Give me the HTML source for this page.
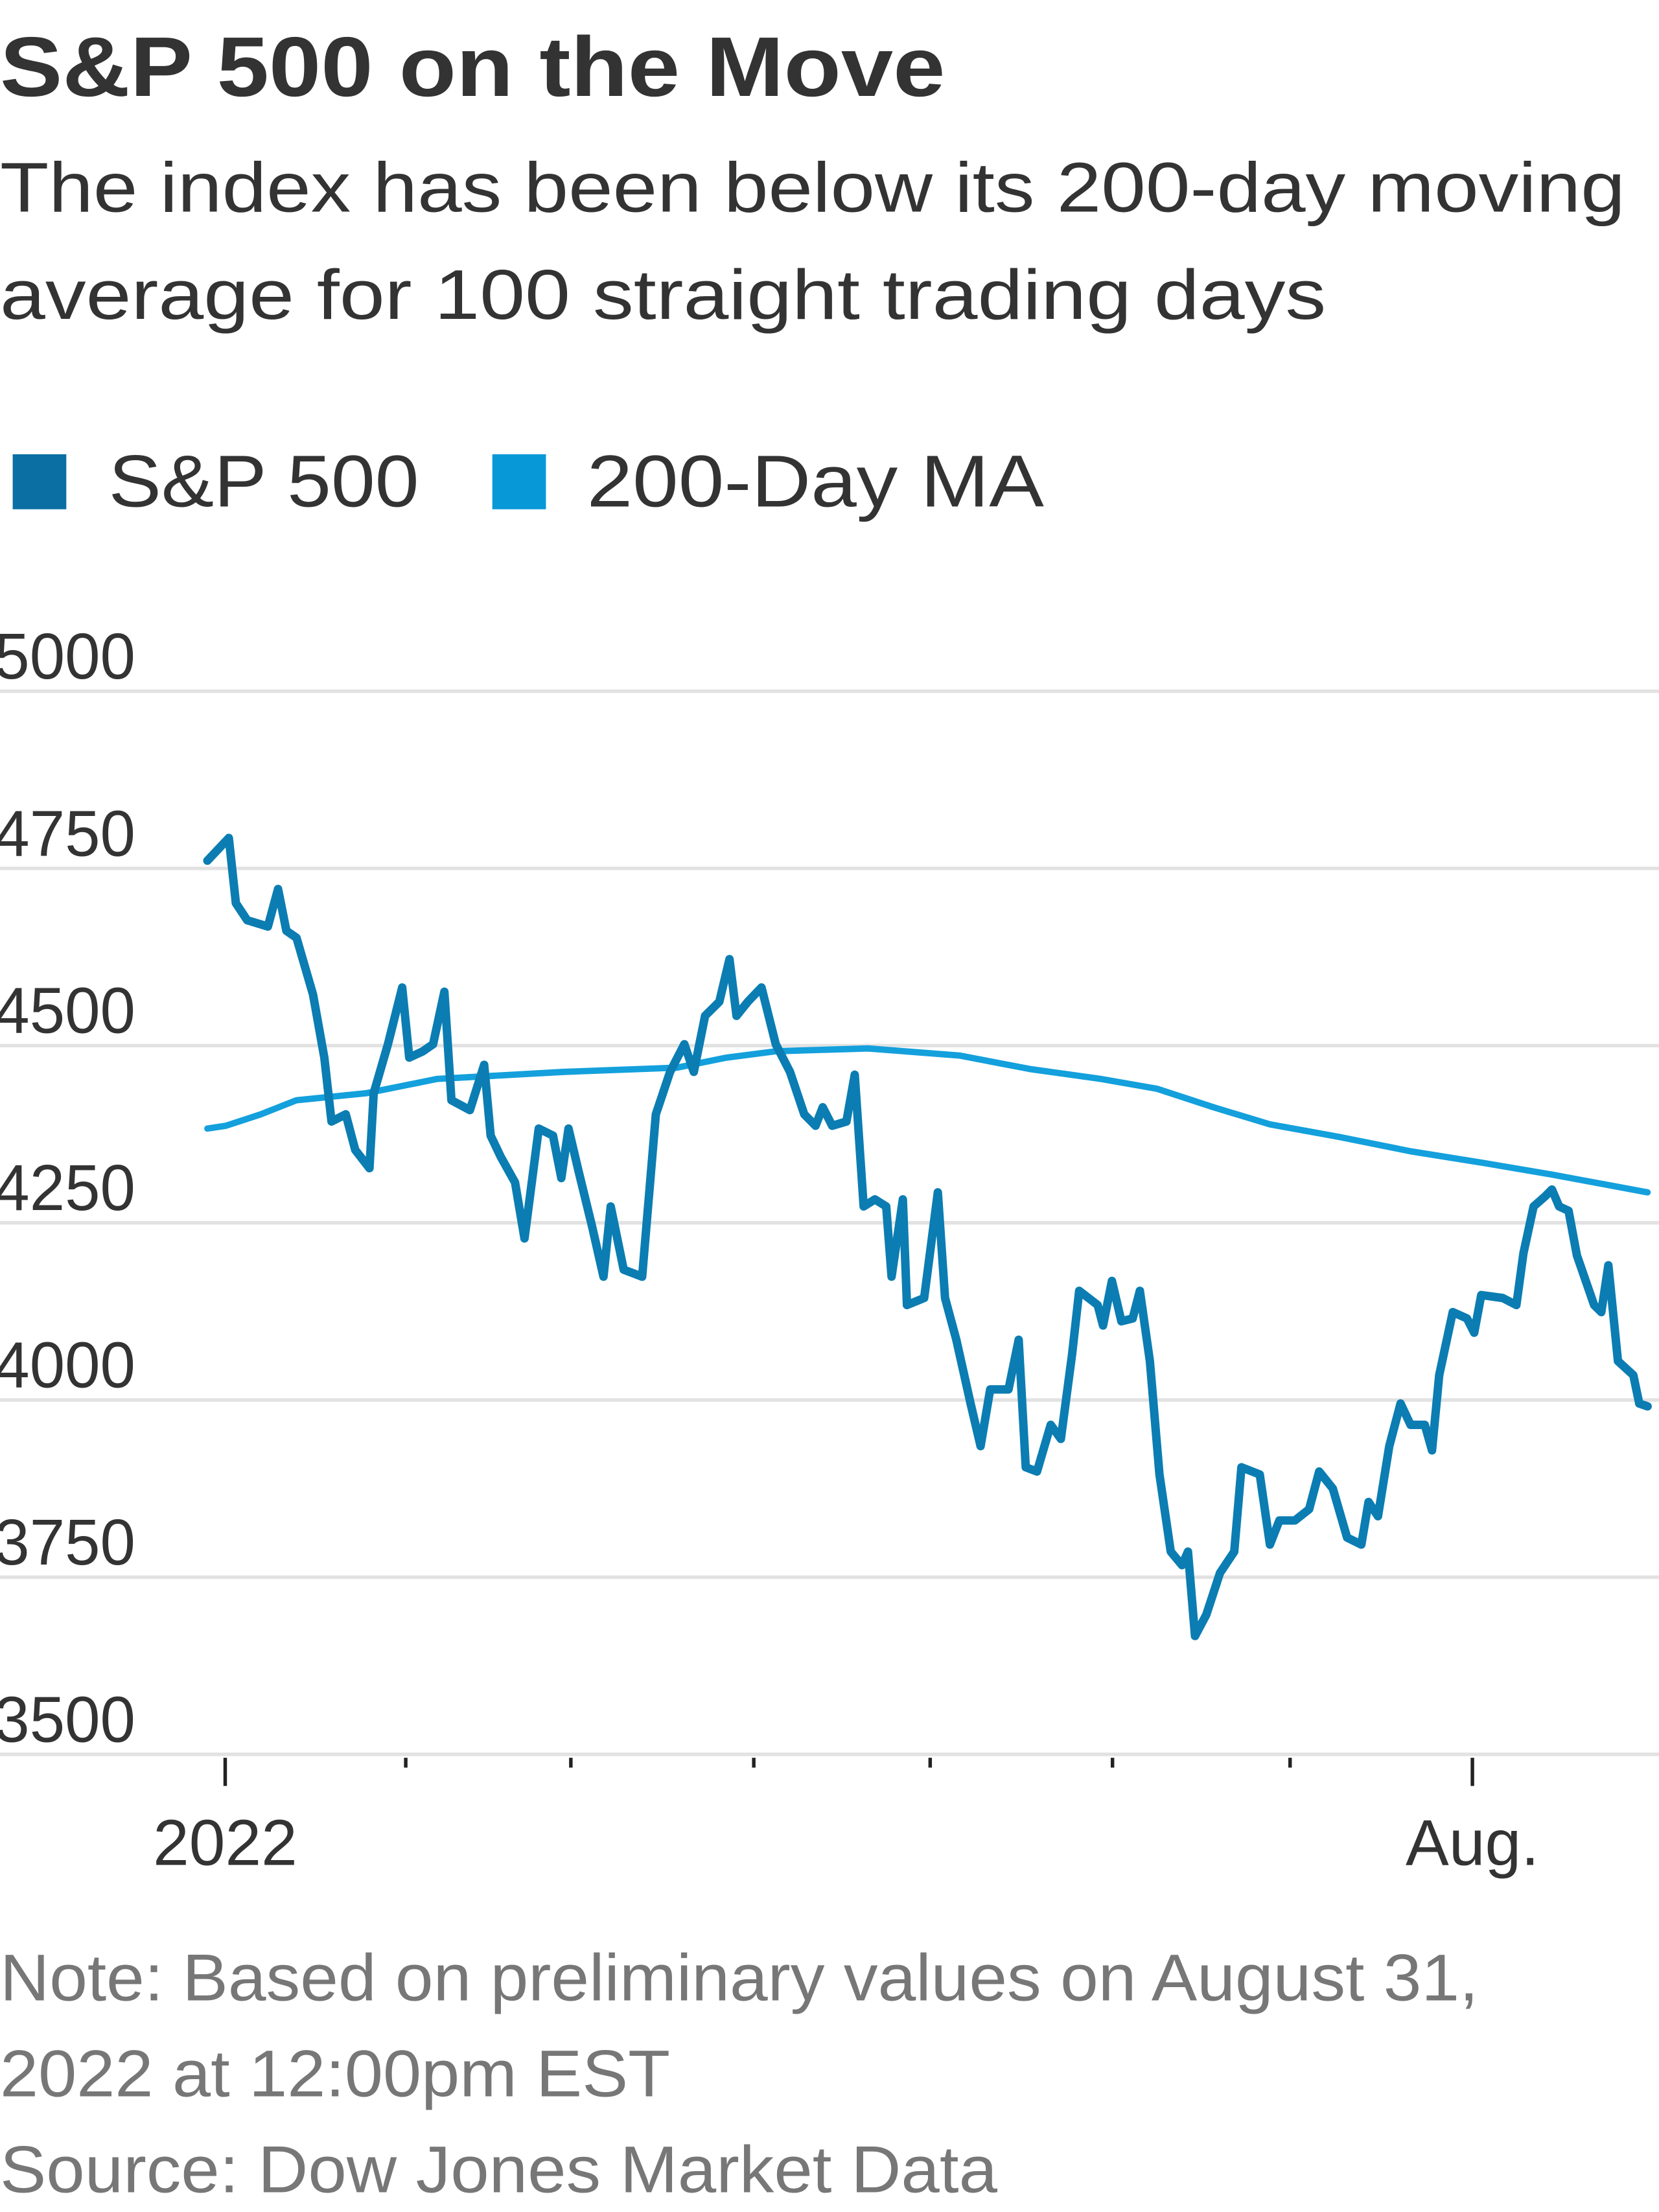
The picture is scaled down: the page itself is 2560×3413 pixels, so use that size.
<!DOCTYPE html>
<html><head><meta charset="utf-8">
<style>
html,body{margin:0;padding:0;background:#fff;}
svg{display:block;}
text{font-family:"Liberation Sans",sans-serif;}
</style></head>
<body>
<svg id="chart" width="2560" height="3413" viewBox="0 0 1176 1568" preserveAspectRatio="none" xmlns="http://www.w3.org/2000/svg">
  <text x="0" y="68" font-size="60" font-weight="bold" fill="#333" textLength="670" lengthAdjust="spacingAndGlyphs">S&amp;P 500 on the Move</text>
  <text x="0" y="150" font-size="50" fill="#333" textLength="1152" lengthAdjust="spacingAndGlyphs">The index has been below its 200-day moving</text>
  <text x="0" y="226" font-size="50" fill="#333" textLength="940" lengthAdjust="spacingAndGlyphs">average for 100 straight trading days</text>
  <g>
    <rect x="9" y="322" width="38" height="39" fill="#0b6fa4"/>
    <text x="77" y="359" font-size="52" fill="#333" textLength="220" lengthAdjust="spacingAndGlyphs">S&amp;P 500</text>
    <rect x="349" y="322" width="38" height="39" fill="#0798d8"/>
    <text x="416" y="359" font-size="52" fill="#333" textLength="324" lengthAdjust="spacingAndGlyphs">200-Day MA</text>
  </g>
  <g id="grid"></g>
  <g id="yaxis"></g>
  <g id="xaxis"></g>
  <g id="series"></g>
  <text x="0" y="1418" font-size="47" fill="#777" textLength="1048" lengthAdjust="spacingAndGlyphs">Note: Based on preliminary values on August 31,</text>
  <text x="0" y="1486" font-size="47" fill="#777" textLength="475" lengthAdjust="spacingAndGlyphs">2022 at 12:00pm EST</text>
  <text x="0" y="1554" font-size="47" fill="#777" textLength="707" lengthAdjust="spacingAndGlyphs">Source: Dow Jones Market Data</text>
</svg>
<script>
const yTicks = [3500, 3750, 4000, 4250, 4500, 4750, 5000];
const xTickDays = [3, 33.4, 61.2, 92, 121.7, 152.4, 182.3, 213];
const xLabelDays = [3, 213];
const xLabels = ["2022", "Aug."];
const spDays = [0,3.6,4.8,6.7,10.2,11.9,13.3,15.0,17.8,19.7,20.9,23.3,24.9,27.3,28.0,30.4,32.8,34.0,36.3,38.0,39.9,41.1,44.2,46.6,47.7,49.4,51.8,53.4,55.8,58.2,59.6,60.8,62.5,64.8,66.7,67.9,70.1,73.2,75.5,77.9,80.3,81.9,83.8,86.2,87.9,89.1,91.0,93.3,95.7,98.1,100.5,102.4,103.6,105.2,107.6,109.0,110.5,112.4,114.3,115.2,117.1,117.8,120.7,123.0,124.2,126.1,128.5,130.2,131.8,134.9,136.6,137.8,139.7,142.0,143.7,145.6,146.8,149.9,150.8,152.3,153.9,155.8,157.0,158.7,160.3,162.2,164.1,165.1,166.3,168.2,170.5,172.9,174.1,177.2,178.9,180.5,183.1,185.5,187.2,189.5,191.9,194.3,195.5,197.1,199.0,200.9,202.6,205.0,206.2,207.4,209.7,212.1,213.3,214.5,218.1,220.4,221.6,223.3,225.2,226.4,227.6,229.2,230.6,233.5,234.7,235.9,237.5,240.1,241.1,242.5];
const spValues = [4761,4793,4701,4677,4668,4721,4662,4652,4572,4483,4393,4403,4353,4327,4433,4502,4582,4483,4492,4502,4576,4423,4409,4473,4373,4343,4307,4228,4383,4373,4313,4383,4323,4244,4174,4273,4184,4174,4403,4463,4502,4463,4542,4562,4622,4542,4562,4582,4502,4463,4403,4387,4413,4387,4393,4459,4273,4283,4273,4174,4283,4134,4144,4293,4144,4085,3995,3935,4015,4015,4085,3905,3899,3965,3945,4065,4154,4134,4105,4168,4111,4115,4154,4055,3895,3786,3767,3786,3667,3697,3756,3786,3905,3895,3796,3830,3830,3846,3899,3875,3806,3796,3856,3836,3935,3995,3965,3965,3929,4035,4124,4115,4095,4148,4144,4134,4207,4273,4287,4297,4273,4267,4204,4134,4124,4190,4055,4035,3995,3991];
const maDays = [0,3.1,9,15,26.8,38.7,60.1,79.1,87.4,95.7,111.2,126.6,138.5,150.4,159.9,169.4,178.9,190.7,202.6,214.5,226.4,242.5];
const maValues = [4383,4387,4403,4423,4433,4453,4463,4469,4483,4492,4496,4486,4467,4453,4439,4413,4389,4371,4351,4335,4318,4293];

const NS = "http://www.w3.org/2000/svg";
function xScale(d){ return 147 + 4.21 * d; }
function yScale(v){ return 490 + (5000 - v) / 250 * 125.6; }
function mk(tag, attrs, parent){ const e = document.createElementNS(NS, tag); for (const k in attrs) e.setAttribute(k, attrs[k]); parent.appendChild(e); return e; }

const grid = document.getElementById('grid');
const yaxis = document.getElementById('yaxis');
yTicks.forEach(v => {
  const l = mk('line', {x1:0, x2:1176, y1:yScale(v), y2:yScale(v), stroke:'#e2e2e2', 'stroke-width':2.5}, grid);
  
  
  const t = mk('text', {x:-4, y:yScale(v) - 9, 'font-size':46, fill:'#333', textLength:100, lengthAdjust:'spacingAndGlyphs'}, yaxis);
  t.textContent = v;
  
  
});

const xaxis = document.getElementById('xaxis');
xTickDays.forEach((d, i) => {
  const major = (i === 0 || i === xTickDays.length - 1);
  const l = mk('line', {x1:xScale(d), x2:xScale(d), y1:1246, y2:major ? 1266 : 1253, stroke:'#222', 'stroke-width':2.5}, xaxis);
  
  
});
xLabelDays.forEach((d, i) => {
  const t = mk('text', {x:xScale(d), y:1322, 'font-size':46, fill:'#333', 'text-anchor':'middle'}, xaxis);
  t.textContent = xLabels[i];
  
  
});

const series = document.getElementById('series');
const maPts = maDays.map((d, i) => xScale(d).toFixed(1) + ',' + yScale(maValues[i]).toFixed(1)).join(' ');
const ma = mk('polyline', {points:maPts, fill:'none', stroke:'#13a0dc', 'stroke-width':4.5, 'stroke-linejoin':'round', 'stroke-linecap':'round'}, series);


const spPts = spDays.map((d, i) => xScale(d).toFixed(1) + ',' + yScale(spValues[i]).toFixed(1)).join(' ');
const sp = mk('polyline', {points:spPts, fill:'none', stroke:'#0b7db2', 'stroke-width':6, 'stroke-linejoin':'round', 'stroke-linecap':'round'}, series);


</script>
</body></html>
